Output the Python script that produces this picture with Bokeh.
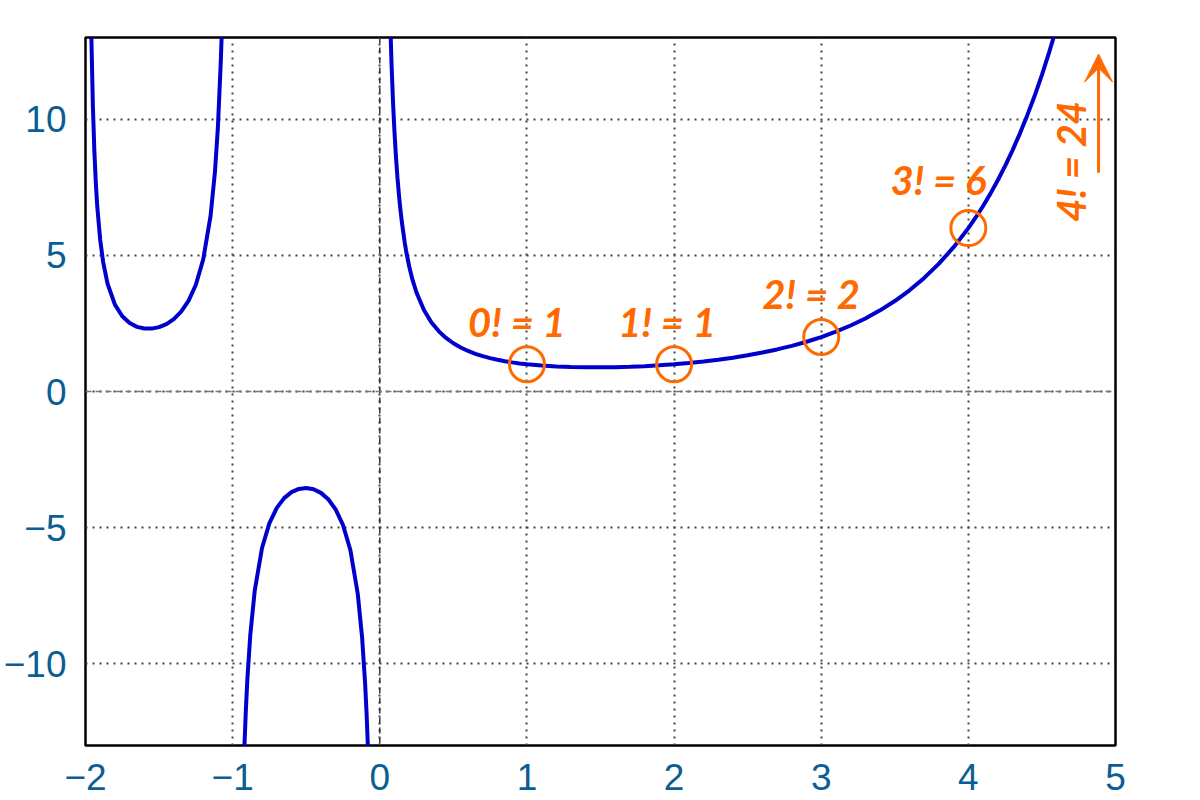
import math
from bokeh.plotting import figure
from bokeh.models import FixedTicker, Span, Arrow, VeeHead, ColumnDataSource
from bokeh.core.properties import value
from bokeh.embed import file_html
from bokeh.resources import INLINE

# --- Gamma curve, three visible branches ---
branch1_x = [-1.97, -1.96, -1.95, -1.94, -1.93, -1.92, -1.90, -1.88, -1.85, -1.80, -1.75,
             -1.70, -1.65, -1.60, -1.55, -1.50, -1.45, -1.40, -1.35, -1.30, -1.25,
             -1.20, -1.15, -1.12, -1.10, -1.08, -1.075, -1.07]
branch1_y = [17.16, 13.00, 10.51, 8.854, 7.674, 6.792, 5.564, 4.753, 3.956, 3.188, 2.762,
             2.514, 2.374, 2.311, 2.309, 2.363, 2.477, 2.659, 2.931, 3.328, 3.921,
             4.851, 6.449, 8.075, 9.715, 12.19, 13.01, 13.96]

branch2_x = [-0.92, -0.91, -0.90, -0.88, -0.85, -0.80, -0.75, -0.70, -0.65, -0.60, -0.55,
             -0.50, -0.45, -0.40, -0.35, -0.30, -0.25, -0.20, -0.15, -0.12, -0.10,
             -0.09, -0.08]
branch2_y = [-13.04, -11.67, -10.57, -8.936, -7.318, -5.739, -4.834, -4.274, -3.917, -3.697, -3.578,
             -3.545, -3.591, -3.723, -3.957, -4.327, -4.902, -5.821, -7.417, -9.044, -10.69,
             -11.79, -13.16]

branch3_x = [0.07, 0.08, 0.09, 0.10, 0.11, 0.12, 0.13, 0.14, 0.15, 0.17, 0.18, 0.20, 0.22,
             0.25, 0.30, 0.35, 0.40, 0.45, 0.50, 0.55, 0.60, 0.65, 0.70, 0.75, 0.80,
             0.85, 0.90, 0.95, 1.00, 1.10, 1.20, 1.30, 1.40, 1.50, 1.60, 1.70, 1.80,
             1.90, 2.00, 2.10, 2.20, 2.30, 2.40, 2.50, 2.60, 2.70, 2.80, 2.90, 3.00,
             3.10, 3.20, 3.30, 3.40, 3.50, 3.60, 3.70, 3.80, 3.90, 4.00, 4.05, 4.10,
             4.15, 4.20, 4.25, 4.30, 4.35, 4.40, 4.45, 4.50, 4.55, 4.60]
branch3_y = [13.77, 12.00, 10.62, 9.514, 8.613, 7.863, 7.230, 6.689, 6.220, 5.451, 5.132, 4.591, 4.148,
             3.626, 2.992, 2.546, 2.218, 1.968, 1.772, 1.616, 1.489, 1.385, 1.298, 1.225, 1.164,
             1.113, 1.069, 1.032, 1.000, 0.9514, 0.9182, 0.8975, 0.8873, 0.8862, 0.8935, 0.9086, 0.9314,
             0.9618, 1.000, 1.047, 1.102, 1.167, 1.242, 1.329, 1.430, 1.545, 1.677, 1.827, 2.000,
             2.198, 2.424, 2.683, 2.981, 3.323, 3.717, 4.171, 4.694, 5.300, 6.000, 6.391, 6.813,
             7.267, 7.757, 8.285, 8.855, 9.471, 10.14, 10.85, 11.63, 12.47, 13.38]

# --- factorial points ---
fact_x = [1, 2, 3, 4]
fact_y = [1, 1, 2, 6]
fact_labels = ["0! = 1", "1! = 1", "2! = 2", "3! = 6"]
label_dx = [-10, -7, -10, -30]      # pixel offsets of labels from their point
label_dy = [-42, -42, -43, -48]

off_label = "4! = 24"
off_label_x = [4.70]
off_label_y = [8.45]
arrow_x = 4.885
arrow_y0, arrow_y1 = 8.03, 12.39

x_ticks = [-2, -1, 0, 1, 2, 3, 4, 5]
y_ticks = [-10, -5, 0, 5, 10]

BLUE = "#0000cc"
ORANGE = "#ff6a00"
TICK_COLOR = "#0b5e94"
LABEL_FONT = "Lato"

p = figure(width=1200, height=800, x_range=(-2, 5), y_range=(-13, 13),
           output_backend="svg", toolbar_location=None,
           min_border_left=85, min_border_right=85, min_border_top=37, min_border_bottom=55)
p.background_fill_color = "white"
p.outline_line_color = "black"
p.outline_line_width = 2.5

for ax, ticks in ((p.xaxis, x_ticks), (p.yaxis, y_ticks)):
    ax.ticker = FixedTicker(ticks=ticks)
    ax.major_label_overrides = {t: (str(t).replace("-", "\u2212")) for t in ticks}
    ax.major_tick_line_color = None
    ax.minor_tick_line_color = None
    ax.axis_line_color = None
    ax.major_label_text_color = TICK_COLOR
    ax.major_label_text_font = "Liberation Sans"
    ax.major_label_text_font_size = "37px"
p.xaxis.major_label_standoff = 12
p.yaxis.major_label_standoff = 13

p.xgrid.ticker = FixedTicker(ticks=x_ticks)
p.ygrid.ticker = FixedTicker(ticks=y_ticks)
for g in (p.xgrid, p.ygrid):
    g.grid_line_color = "#444444"
    g.grid_line_dash = "2 5"
    g.grid_line_width = 2

p.add_layout(Span(location=0, dimension="height", line_color="#333333",
                  line_dash="6 4", line_width=1.5))
p.add_layout(Span(location=0, dimension="width", line_color="#777777",
                  line_dash="6 4", line_width=1.5))

for bx, by in ((branch1_x, branch1_y), (branch2_x, branch2_y), (branch3_x, branch3_y)):
    p.line(bx, by, line_color=BLUE, line_width=4)

p.scatter(fact_x, fact_y, marker="circle", size=35, fill_color=None,
          line_color=ORANGE, line_width=3)

src = ColumnDataSource(dict(x=fact_x, y=fact_y, text=fact_labels, dx=label_dx, dy=label_dy))
p.text(x="x", y="y", text="text", x_offset="dx", y_offset="dy", source=src,
       text_font=value(LABEL_FONT), text_font_style="bold italic", text_font_size="40px",
       text_color=ORANGE, text_align="center", text_baseline="alphabetic")

p.text(x=off_label_x, y=off_label_y, text=[off_label], angle=math.pi / 2,
       text_font=value(LABEL_FONT), text_font_style="bold italic", text_font_size="40px",
       text_color=ORANGE, text_align="center", text_baseline="middle")

p.add_layout(Arrow(end=VeeHead(size=28, fill_color=ORANGE, line_color=ORANGE),
                   x_start=arrow_x, y_start=arrow_y0, x_end=arrow_x, y_end=arrow_y1,
                   line_color=ORANGE, line_width=3))

open("out.html", "w").write(file_html(p, INLINE))
